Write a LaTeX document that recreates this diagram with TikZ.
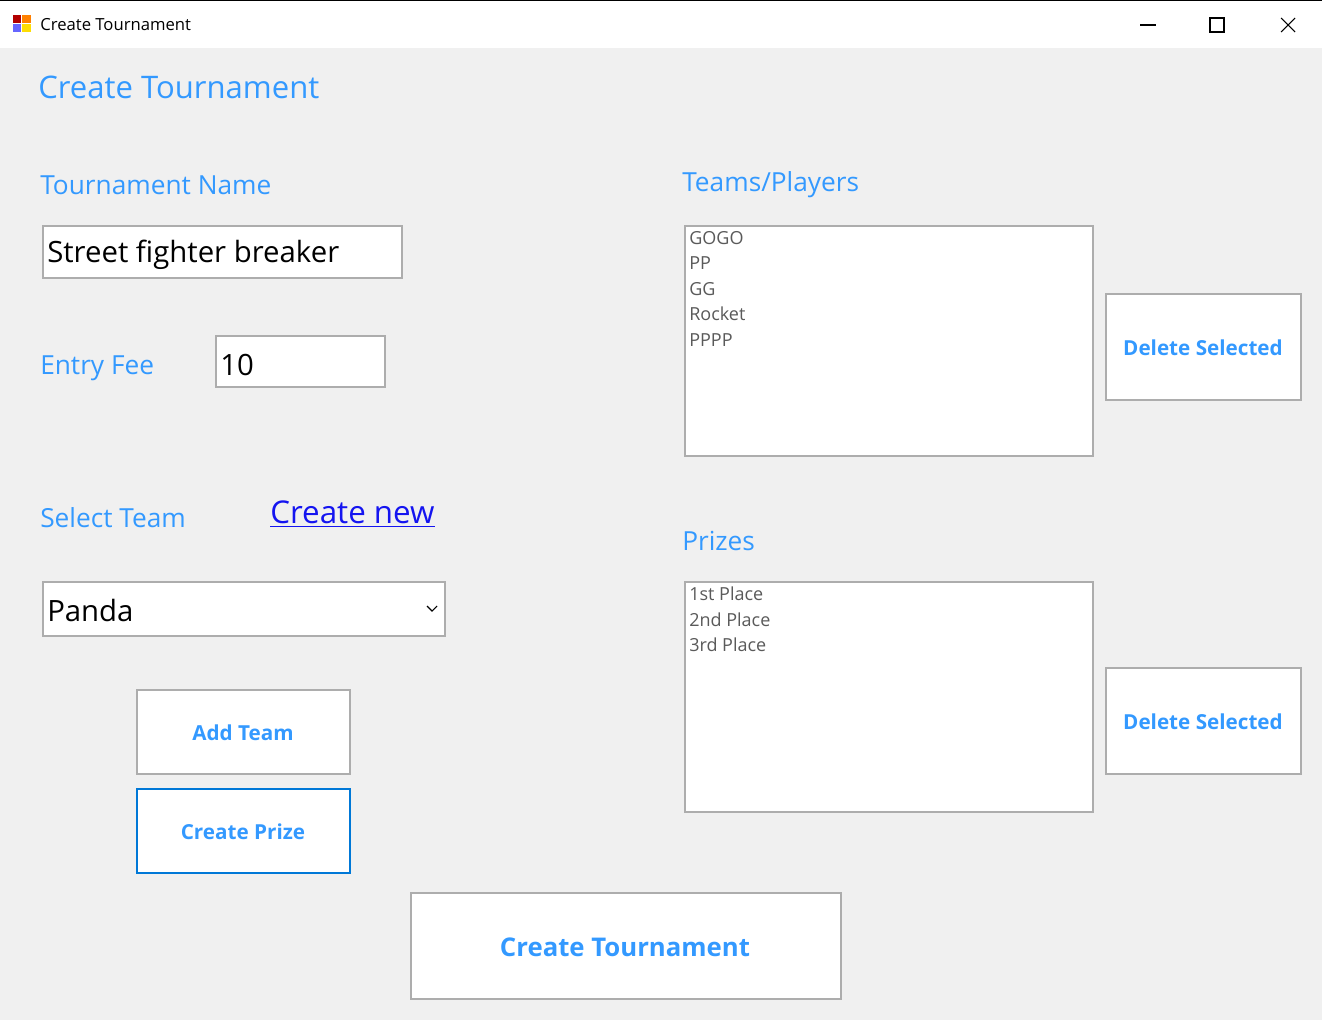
\documentclass[tikz,border=0pt]{standalone}
\usepackage{fontspec}
\setmainfont{Open Sans}
\definecolor{bg}{RGB}{240,240,240}
\definecolor{lblue}{RGB}{51,153,255}
\definecolor{bord}{RGB}{173,173,173}
\definecolor{btnb}{RGB}{0,120,215}
\definecolor{itemc}{RGB}{90,90,90}
\definecolor{lnk}{RGB}{20,20,240}
\begin{document}
\begin{tikzpicture}[x=0.75pt,y=-0.75pt,
  lbl/.style={anchor=west,inner sep=0,text=lblue,font=\fontsize{19.7}{22}\selectfont},
  item/.style={anchor=north west,inner sep=0,align=left,text=itemc,font=\fontsize{13.5}{19.1}\selectfont},
  box/.style={draw=bord,fill=white,line width=1.2pt},
  btn/.style={draw=bord,fill=white,line width=1.8pt},
  btxt/.style={text=lblue,font=\fontsize{15.5}{18}\selectfont\bfseries}]
\useasboundingbox (0,0) rectangle (1322,1020);
\fill[bg] (0,0) rectangle (1322,1020);
\fill[white] (0,0) rectangle (1322,48);
\draw[black,line width=1pt] (0,0.5) -- (1322,0.5);
% icon
\fill[red!70!black] (13,15) rectangle (21,23);
\fill[orange] (22,15) rectangle (31,23);
\fill[blue!60] (13,24) rectangle (21,32);
\fill[yellow!80!orange] (22,24) rectangle (31,32);
\node[anchor=west,inner sep=0,font=\fontsize{12.5}{14}\selectfont] (ttl) at (40,25) {Create Tournament};
\draw[line width=0.8pt] (1140,25) -- (1156,25);
\draw[line width=0.8pt] (1210,18) rectangle (1224,32);
\draw[line width=0.8pt] (1281,18) -- (1295,32) (1295,18) -- (1281,32);
% labels
\node[lbl,font=\fontsize{23.3}{28}\selectfont] (hdr) at (38,87) {Create Tournament};
\node[lbl] (tn) at (40,185) {Tournament Name};
\node[lbl] (ef) at (40,368) {Entry Fee};
\node[lbl] (st) at (40,518) {Select Team};
\node[anchor=west,inner sep=0,text=lnk,font=\fontsize{23.5}{28}\selectfont] (cn) at (270,514) {\underline{Create new}};
\node[lbl] (tp) at (682,185) {Teams/Players};
\node[lbl] (pz) at (682,541) {Prizes};
% text boxes
\draw[box] (43,226) rectangle (402,278);
\node[anchor=west,inner sep=0,font=\fontsize{22}{26}\selectfont] (tnv) at (47,255) {Street fighter breaker};
\draw[box] (216,336) rectangle (385,387);
\node[anchor=west,inner sep=0,font=\fontsize{22}{26}\selectfont] (efv) at (220,365) {10};
\draw[box] (43,582) rectangle (445,636);
\node[anchor=west,inner sep=0,font=\fontsize{22}{26}\selectfont] (tmv) at (47,610) {Panda};
\draw[line width=0.8pt] (427,606) -- (432,611) -- (437,606);
% lists
\draw[box] (685,226) rectangle (1093,456);
\node[item] (l1) at (689,231) {GOGO\\PP\\GG\\Rocket\\PPPP};
\draw[box] (685,582) rectangle (1093,812);
\node[item] (l2) at (689,587) {1st Place\\2nd Place\\3rd Place};
% buttons
\draw[btn] (1106,294) rectangle (1301,400);
\node[btxt] (d1) at (1203,348) {Delete Selected};
\draw[btn] (1106,668) rectangle (1301,774);
\node[btxt] (d2) at (1203,722) {Delete Selected};
\draw[btn] (137,690) rectangle (350,774);
\node[btxt] (at) at (243,733) {Add Team};
\draw[draw=btnb,fill=white,line width=2.2pt] (137,789) rectangle (350,873);
\node[btxt] (cp) at (243,832) {Create Prize};
\draw[btn] (411,893) rectangle (841,999);
\node[btxt,font=\fontsize{19.3}{22}\selectfont\bfseries] (ct) at (625,947) {Create Tournament};
\end{tikzpicture}
\end{document}
